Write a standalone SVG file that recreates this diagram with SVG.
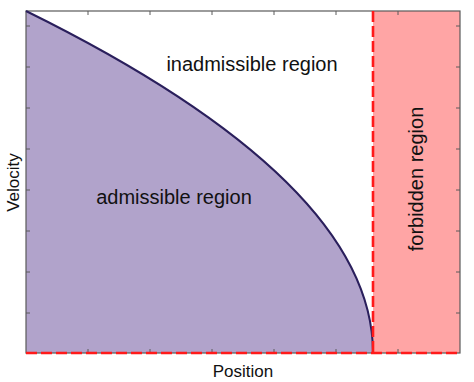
<svg xmlns="http://www.w3.org/2000/svg" width="474" height="382" viewBox="0 0 474 382">
<style>
.lbl{font-family:"Liberation Sans",Arial,sans-serif;fill:#111;}
.axis{fill:none;stroke:#5a5a5a;stroke-width:1.2;}
.tick{stroke:#5a5a5a;stroke-width:1;}
.red{fill:none;stroke:#ff1a1a;stroke-width:2.6;stroke-dasharray:11 4;}
</style>
<rect width="474" height="382" fill="#ffffff"/>
<g id="forbidden">
<rect x="373" y="11" width="87" height="342" fill="#ffa5a5"/>
</g>
<g id="admissible">
<path d="M26,11 Q373,182 373,353 L26,353 Z" fill="#b1a3cb"/>
</g>
<g id="axes">
<rect class="axis" x="26" y="11" width="434" height="342"/>
<path class="tick" d="M88,11v4M150,11v4M212,11v4M274,11v4M336,11v4M398,11v4M88,353v-4M150,353v-4M212,353v-4M274,353v-4M336,353v-4M398,353v-4M26,313h4M26,272h4M26,231h4M26,190h4M26,149h4M26,108h4M26,67h4M26,26h4M460,313h-4M460,272h-4M460,231h-4M460,190h-4M460,149h-4M460,108h-4M460,67h-4M460,26h-4"/>
</g>
<g id="connectors">
<path d="M26,11 Q373,182 373,353" fill="none" stroke="#2a1f5c" stroke-width="2"/>
<path class="red" d="M26,353 H460"/>
<path class="red" d="M373,11 V353"/>
</g>
<g id="labels">
<text class="lbl" x="252" y="71" font-size="20" text-anchor="middle">inadmissible region</text>
<text class="lbl" x="174" y="204" font-size="20" text-anchor="middle">admissible region</text>
<text class="lbl" transform="translate(422.5,179) rotate(-90)" font-size="20" text-anchor="middle">forbidden region</text>
<text class="lbl" transform="translate(19,182.5) rotate(-90)" font-size="17" text-anchor="middle">Velocity</text>
<text class="lbl" x="243" y="377" font-size="17" text-anchor="middle">Position</text>
</g>
</svg>
